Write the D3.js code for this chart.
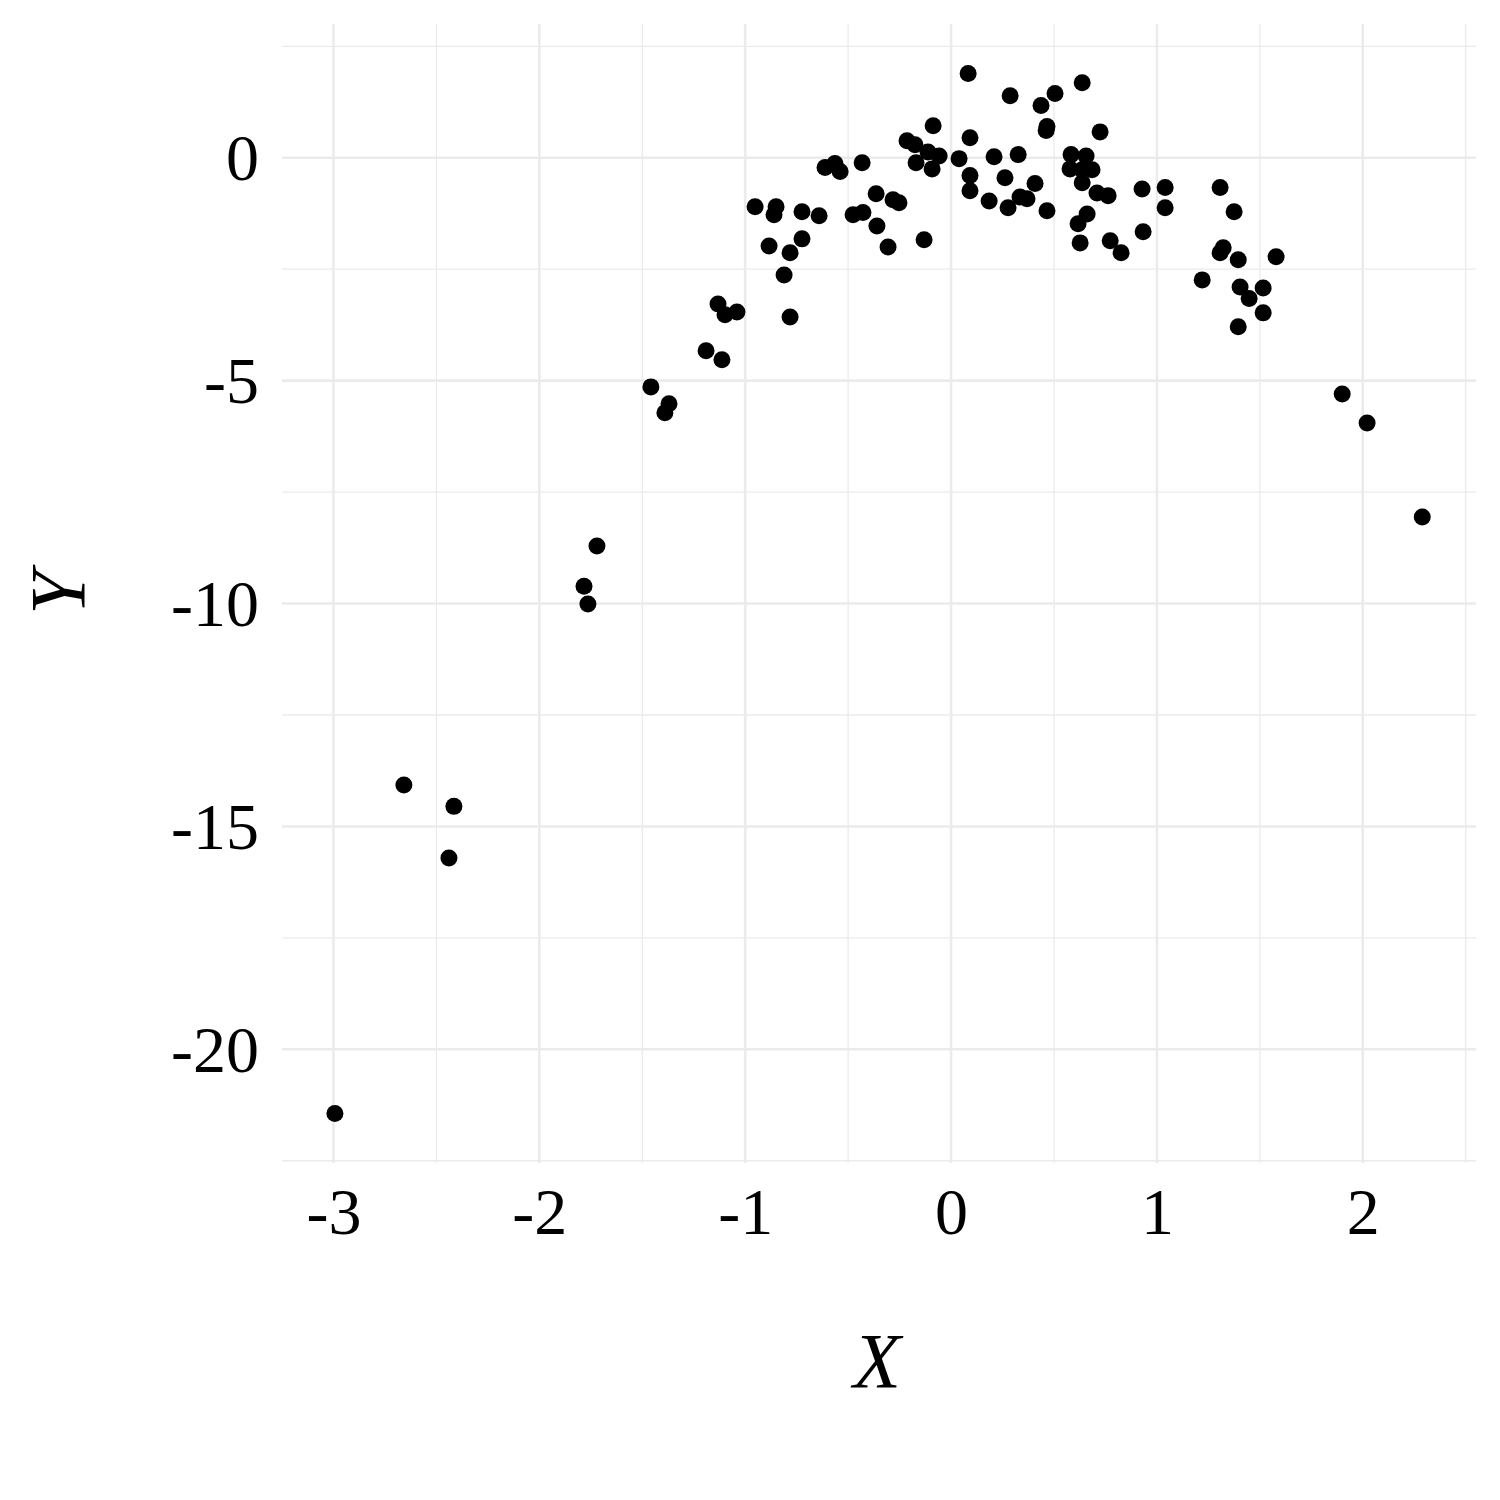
<!DOCTYPE html>
<html>
<head>
<meta charset="utf-8">
<script src="https://cdn.jsdelivr.net/npm/d3@7"></script>
<style>
  body { margin: 0; background: #fff; }
  svg text { font-family: "Liberation Serif", "DejaVu Serif", serif; fill: #000; }
</style>
</head>
<body>
<svg id="chart" width="1500" height="1500"></svg>
<script>
const xValues = [-2.993,-2.658,-2.415,-2.439,-1.783,-1.764,-1.720,-1.458,-1.390,-1.370,
  -1.190,-1.113,-1.132,-1.098,-1.040,-0.952,-0.884,-0.860,-0.850,-0.811,
  -0.782,-0.782,-0.724,-0.724,-0.641,-0.612,-0.564,-0.539,-0.476,-0.428,
  -0.432,-0.364,-0.360,-0.306,-0.282,-0.253,-0.214,-0.175,-0.170,-0.131,
  -0.112,-0.092,-0.087,-0.058,0.039,0.083,0.092,0.092,0.092,0.185,
  0.209,0.262,0.277,0.287,0.326,0.335,0.369,0.408,0.437,0.462,
  0.466,0.466,0.505,0.583,0.578,0.617,0.627,0.637,0.637,0.637,
  0.656,0.661,0.685,0.709,0.724,0.763,0.773,0.826,0.928,0.933,
  1.040,1.040,1.220,1.307,1.307,1.322,1.375,1.395,1.404,1.395,
  1.448,1.516,1.516,1.579,1.900,2.021,2.289];
const yValues = [-21.44,-14.07,-14.55,-15.71,-9.61,-10.01,-8.71,-5.14,-5.72,-5.52,
  -4.33,-4.53,-3.28,-3.52,-3.46,-1.10,-1.98,-1.28,-1.10,-2.63,
  -2.13,-3.57,-1.21,-1.82,-1.30,-0.22,-0.13,-0.31,-1.28,-1.23,
  -0.11,-0.81,-1.53,-2.00,-0.94,-1.01,0.38,0.29,-0.11,-1.84,
  0.13,-0.25,0.72,0.04,-0.02,1.89,0.45,-0.40,-0.74,-0.97,
  0.02,-0.45,-1.12,1.39,0.07,-0.88,-0.92,-0.58,1.17,0.61,
  0.70,-1.19,1.44,0.07,-0.25,-1.48,-1.91,1.68,-0.56,-0.27,
  0.04,-1.26,-0.27,-0.79,0.58,-0.85,-1.86,-2.13,-0.70,-1.66,
  -0.67,-1.12,-2.74,-0.67,-2.13,-2.02,-1.21,-2.29,-2.90,-3.79,
  -3.16,-2.92,-3.48,-2.22,-5.30,-5.95,-8.06];
const xMajorTicks = [-3,-2,-1,0,1,2];
const xMinorTicks = [-2.5,-1.5,-0.5,0.5,1.5,2.5];
const yMajorTicks = [0,-5,-10,-15,-20];
const yMinorTicks = [2.5,-2.5,-7.5,-12.5,-17.5,-22.5];
const xTitle = "X";
const yTitle = "Y";

const points = xValues.map((x, i) => ({x, y: yValues[i]}));
const svg = d3.select("#chart");
const pLeft = 282, pRight = 1476, pTop = 24, pBottom = 1163;
const x = d3.scaleLinear().domain([-3.25, 2.55]).range([pLeft, pRight]);
const y = d3.scaleLinear().domain([-22.55, 3.0]).range([pBottom, pTop]);

const grid = svg.append("g");
grid.selectAll(".xmin").data(xMinorTicks).join("line")
  .attr("x1", d => x(d)).attr("x2", d => x(d)).attr("y1", pTop).attr("y2", pBottom)
  .attr("stroke", "#ebebeb").attr("stroke-width", 1.3);
grid.selectAll(".ymin").data(yMinorTicks).join("line")
  .attr("y1", d => y(d)).attr("y2", d => y(d)).attr("x1", pLeft).attr("x2", pRight)
  .attr("stroke", "#ebebeb").attr("stroke-width", 1.3);
grid.selectAll(".xmaj").data(xMajorTicks).join("line")
  .attr("x1", d => x(d)).attr("x2", d => x(d)).attr("y1", pTop).attr("y2", pBottom)
  .attr("stroke", "#ebebeb").attr("stroke-width", 2.6);
grid.selectAll(".ymaj").data(yMajorTicks).join("line")
  .attr("y1", d => y(d)).attr("y2", d => y(d)).attr("x1", pLeft).attr("x2", pRight)
  .attr("stroke", "#ebebeb").attr("stroke-width", 2.6);

const fmt = d => String(d);
const xAxis = svg.append("g").attr("transform", `translate(0,${pBottom})`)
  .call(d3.axisBottom(x).tickValues(xMajorTicks).tickFormat(fmt).tickSize(0).tickPadding(0));
xAxis.select(".domain").remove();
xAxis.selectAll("text").attr("font-size", 66).attr("dy", null).attr("y", 71)
  .style("font-family", "Liberation Serif").attr("fill", "#000");

const yAxis = svg.append("g").attr("transform", `translate(${pLeft},0)`)
  .call(d3.axisLeft(y).tickValues(yMajorTicks).tickFormat(fmt).tickSize(0).tickPadding(0));
yAxis.select(".domain").remove();
yAxis.selectAll("text").attr("font-size", 66).attr("x", -23).attr("dy", "0.33em")
  .style("font-family", "Liberation Serif").attr("fill", "#000");

svg.append("g").selectAll("circle").data(points).join("circle")
  .attr("cx", d => x(d.x)).attr("cy", d => y(d.y)).attr("r", 8.5).attr("fill", "#000");

svg.append("text").attr("x", 877).attr("y", 1387).attr("text-anchor", "middle")
  .attr("font-size", 78).attr("font-style", "italic").text(xTitle);
svg.append("text").attr("transform", "translate(84,593) rotate(-90)").attr("text-anchor", "middle")
  .attr("font-size", 78).attr("font-style", "italic").text(yTitle);
</script>
</body>
</html>
